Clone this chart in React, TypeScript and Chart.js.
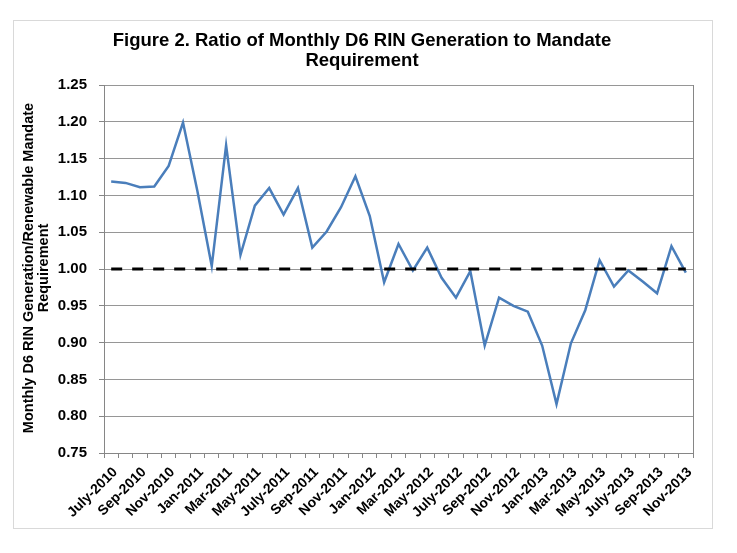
import React, { useEffect, useRef } from "react";
import { Chart, registerables } from "chart.js";

Chart.register(...registerables);

const FONT = 'Arial, "Liberation Sans", sans-serif';

const titleLines = ["Figure 2. Ratio of Monthly D6 RIN Generation to Mandate", "Requirement"];
const yTitleLines = ["Monthly D6 RIN Generation/Renewable Mandate", "Requirement"];

const months = [
  "July-2010", "Aug-2010", "Sep-2010", "Oct-2010", "Nov-2010", "Dec-2010",
  "Jan-2011", "Feb-2011", "Mar-2011", "Apr-2011", "May-2011", "June-2011",
  "July-2011", "Aug-2011", "Sep-2011", "Oct-2011", "Nov-2011", "Dec-2011",
  "Jan-2012", "Feb-2012", "Mar-2012", "Apr-2012", "May-2012", "June-2012",
  "July-2012", "Aug-2012", "Sep-2012", "Oct-2012", "Nov-2012", "Dec-2012",
  "Jan-2013", "Feb-2013", "Mar-2013", "Apr-2013", "May-2013", "June-2013",
  "July-2013", "Aug-2013", "Sep-2013", "Oct-2013", "Nov-2013",
];

const ratio = [
  1.119, 1.117, 1.111, 1.112, 1.140, 1.199,
  1.106, 1.004, 1.168, 1.019, 1.086, 1.110,
  1.074, 1.110, 1.029, 1.051, 1.084, 1.126,
  1.072, 0.982, 1.034, 0.998, 1.029, 0.988,
  0.961, 0.997, 0.896, 0.961, 0.950, 0.942,
  0.896, 0.8165, 0.899, 0.944, 1.012, 0.976,
  0.998, 0.983, 0.967, 1.031, 0.995,
];

const mandate = [
  1, 1, 1, 1, 1, 1,
  1, 1, 1, 1, 1, 1,
  1, 1, 1, 1, 1, 1,
  1, 1, 1, 1, 1, 1,
  1, 1, 1, 1, 1, 1,
  1, 1, 1, 1, 1, 1,
  1, 1, 1, 1, 1,
];

const yMin = 0.75;
const yMax = 1.25;
const yStep = 0.05;

const decor = {
  id: "decor",
  beforeDraw(chart: any) {
    const ctx = chart.ctx;
    ctx.save();
    ctx.fillStyle = "#ffffff";
    ctx.fillRect(0, 0, chart.width, chart.height);
    ctx.strokeStyle = "#d9d9d9";
    ctx.lineWidth = 1;
    ctx.strokeRect(13.5, 20.5, 699, 508);
    ctx.restore();
  },
  afterDraw(chart: any) {
    const { ctx, chartArea } = chart;
    ctx.save();
    ctx.strokeStyle = "#868686";
    ctx.lineWidth = 1;
    ctx.beginPath();
    ctx.moveTo(Math.round(chartArea.right) + 0.5, chartArea.top);
    ctx.lineTo(Math.round(chartArea.right) + 0.5, chartArea.bottom);
    ctx.stroke();

    ctx.fillStyle = "#000";
    ctx.font = `bold 18.5px ${FONT}`;
    ctx.textAlign = "center";
    ctx.textBaseline = "alphabetic";
    ctx.fillText(titleLines[0], 362, 46);
    ctx.fillText(titleLines[1], 362, 66);

    ctx.translate(36, 268);
    ctx.rotate(-Math.PI / 2);
    ctx.font = `bold 14.5px ${FONT}`;
    ctx.textBaseline = "middle";
    ctx.fillText(yTitleLines[0], 0, -7.5);
    ctx.fillText(yTitleLines[1], 0, 7.5);
    ctx.restore();
  },
};

export default function App() {
  const ref = useRef<HTMLCanvasElement | null>(null);

  useEffect(() => {
    if (!ref.current) return;
    const chart = new Chart(ref.current, {
      type: "line",
      data: {
        labels: months,
        datasets: [
          {
            label: "Mandate",
            data: mandate,
            borderColor: "#000000",
            borderWidth: 3,
            borderDash: [11, 10],
            pointRadius: 0,
            fill: false,
            order: 0,
          },
          {
            label: "Ratio",
            data: ratio,
            borderColor: "#4a7ebb",
            borderWidth: 2.5,
            pointRadius: 0,
            tension: 0,
            fill: false,
            order: 1,
          },
        ],
      },
      options: {
        animation: false,
        responsive: false,
        devicePixelRatio: 1,
        layout: { padding: { top: 85, right: 44, left: 0, bottom: 0 } },
        plugins: {
          legend: { display: false },
          tooltip: { enabled: false },
          title: { display: false },
        },
        scales: {
          x: {
            type: "category",
            offset: true,
            grid: {
              offset: true,
              drawOnChartArea: false,
              drawTicks: true,
              tickLength: 5,
              color: "#868686",
              lineWidth: 1,
            },
            border: { display: true, color: "#868686", width: 1 },
            ticks: {
              autoSkip: false,
              minRotation: 45,
              maxRotation: 45,
              padding: 6,
              labelOffset: 4,
              color: "#000",
              font: { family: FONT, size: 14, weight: "bold" },
              callback: (_v: any, i: number) => (i % 2 === 0 ? months[i] : ""),
            },
            afterFit: (s: any) => {
              s.height = 100;
            },
          },
          y: {
            min: yMin,
            max: yMax,
            ticks: {
              stepSize: yStep,
              padding: 12,
              color: "#000",
              font: { family: FONT, size: 15, weight: "bold" },
              callback: (v: any) => Number(v).toFixed(2),
            },
            grid: { color: "#969696", tickColor: "#868686", tickLength: 5, drawTicks: true },
            border: { color: "#868686" },
            afterFit: (s: any) => {
              s.width = 104;
            },
          },
        },
      } as any,
      plugins: [decor],
    });
    return () => chart.destroy();
  }, []);

  return (
    <div style={{ position: "absolute", left: 0, top: 0, width: 737, height: 553, background: "#fff" }}>
      <canvas ref={ref} width={737} height={553} style={{ display: "block", width: 737, height: 553 }} />
    </div>
  );
}
